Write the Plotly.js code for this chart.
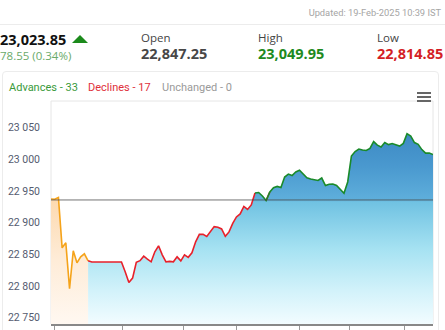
<!DOCTYPE html>
<html><head><meta charset="utf-8">
<script src="https://cdn.plot.ly/plotly-3.0.1.min.js"></script>
<style>
html,body{margin:0;padding:0;background:#fff;width:445px;height:330px;overflow:hidden;font-family:Roboto,sans-serif;}
.t{position:absolute;white-space:nowrap;}
#chart{position:absolute;left:0;top:0;width:445px;height:330px;}
.bar{position:absolute;left:417px;width:14px;height:2px;background:#666;}
</style></head><body>
<div style="position:absolute;left:0;top:24px;width:445px;height:1px;background:#ececec;"></div>
<div style="position:absolute;left:2px;top:71px;width:435px;height:280px;border:1px solid #ececec;border-radius:4px;"></div>
<div id="chart"></div>
<div id="hdr"></div>
<div class="bar" style="top:92px"></div><div class="bar" style="top:96px"></div><div class="bar" style="top:100px"></div>
<script>
// ---- data ----
const updatedText = "Updated: 19-Feb-2025 10:39 IST";
const lastPrice = "23,023.85";
const change = "78.55 (0.34%)";
const statLabels = ["Open", "High", "Low"];
const statValues = ["22,847.25", "23,049.95", "22,814.85"];
const breadthLabels = ["Advances - 33", "Declines - 17", "Unchanged - 0"];
const prevClose = 22945.30;
const preOpenEnd = 10; // last index of pre-open session
const values = [
 22946.9,22946.4,22949.2,22869.7,22877.6,22805.1,22865.0,22846.1,22855.5,22860.3,22849.2,
 22847.25,22847.25,22847.25,22847.25,22847.25,22847.25,22847.25,22847.25,22847.25,
 22831.9,22815.0,22822.0,22846.9,22849.5,22856.6,22852.0,22847.7,22863.4,22872.9,
 22858.7,22847.7,22848.4,22847.7,22855.5,22849.2,22858.7,22854.7,22861.8,22879.2,
 22891.0,22891.0,22887.8,22895.7,22903.2,22902.3,22899.6,22887.8,22894.9,22908.3,
 22918.5,22923.3,22935.1,22930.3,22937.4,22956.3,22957.1,22951.6,22944.5,22957.9,
 22964.5,22966.6,22965.0,22981.5,22986.2,22983.9,22989.4,22992.2,22986.2,22980.3,
 22978.4,22976.8,22976.0,22979.9,22968.1,22970.2,22970.5,22968.1,22961.1,22955.9,
 22973.7,23014.6,23021.7,23025.6,23024.1,23023.3,23026.7,23037.4,23031.9,23028.8,
 23035.9,23032.7,23034.3,23032.7,23030.4,23034.6,23049.95,23046.0,23035.9,23033.0,
 23024.8,23019.3,23019.3,23017.0
];
const tickIdx = [1, 19.4, 35.6, 49.9, 66.9, 80.6, 95.4];
const yTicks = [22750, 22800, 22850, 22900, 22950, 23000, 23050];

// ---- header ----
const hdr = document.getElementById('hdr');
function txt(s, left, cy, size, color, weight, family, right){
  const d = document.createElement('div');
  d.className = 't'; d.textContent = s;
  const lh = Math.round(size + 2);
  d.style.lineHeight = lh + 'px'; d.style.height = lh + 'px';
  d.style.top = (cy - lh / 2) + 'px';
  if (right !== undefined) d.style.right = right + 'px'; else d.style.left = left + 'px';
  d.style.fontSize = size + 'px'; d.style.color = color;
  d.style.fontWeight = weight; d.style.fontFamily = family;
  hdr.appendChild(d); return d;
}
const HF = "'Open Sans',sans-serif";
txt(updatedText, 0, 12, 9.3, '#a5a5a5', 400, 'Roboto', 4);
txt(lastPrice, 0, 39, 14.5, '#111', 700, HF);
const tri = document.createElement('div');
tri.style.cssText = 'position:absolute;left:72px;top:35px;width:0;height:0;border-left:8.5px solid transparent;border-right:8.5px solid transparent;border-bottom:8px solid #1b8a1b;';
hdr.appendChild(tri);
txt(change, 0, 56, 11.5, '#6aaa6a', 400, HF);
const statX = [141, 258, 377];
const statColors = ['#474747', '#1e8a1e', '#d41f26'];
statLabels.forEach((l, i) => {
  txt(l, statX[i], 38, 11.5, '#444', 400, HF);
  txt(statValues[i], statX[i], 53, 14.5, statColors[i], 700, HF);
});
const brX = [9, 88, 162];
const brC = ['#3a9a3a', '#e0303a', '#9a9a9a'];
breadthLabels.forEach((l, i) => txt(l, brX[i], 87, 11, brC[i], 400, 'Roboto'));

// ---- chart ----
const idx = values.map((v, i) => i);
const preX = idx.slice(0, preOpenEnd + 1), preY = values.slice(0, preOpenEnd + 1);
const mkX = idx.slice(preOpenEnd), mkY = values.slice(preOpenEnd);
const redY = mkY.map((v, j) => (v < prevClose || (j > 0 && mkY[j-1] < prevClose)) ? v : null);
const grnY = mkY.map((v, j) => (v >= prevClose || (j > 0 && mkY[j-1] >= prevClose)) ? v : null);
const yMin = 22749.5, yMax = 23101.5;

const traces = [
  {x: preX, y: preY, type: 'scatter', mode: 'lines', fill: 'tozeroy', line: {width: 0},
   fillgradient: {type: 'vertical', start: yMin, stop: 22950,
     colorscale: [[0, '#fff8f1'], [0.5, '#feecd8'], [1, '#fdd9ae']]}, hoverinfo: 'skip'},
  {x: mkX, y: mkY, type: 'scatter', mode: 'lines', fill: 'tozeroy', line: {width: 0},
   fillgradient: {type: 'vertical', start: yMin, stop: 23060,
     colorscale: [[0, '#f2fcff'], [0.17, '#d2f2fa'], [0.38, '#a6e2f2'], [0.62, '#70c2e2'],
                  [0.635, '#5eaedb'], [0.8, '#4a99cf'], [1, '#3a86c2']]}, hoverinfo: 'skip'},
  {x: preX, y: preY, type: 'scatter', mode: 'lines', line: {color: '#f5a31a', width: 1.6}},
  {x: mkX, y: redY, type: 'scatter', mode: 'lines', line: {color: '#e8202a', width: 1.6}, connectgaps: false},
  {x: mkX, y: grnY, type: 'scatter', mode: 'lines', line: {color: '#1a8a2a', width: 1.6}, connectgaps: false}
];
const layout = {
  width: 445, height: 330,
  margin: {l: 51, r: 12, t: 101, b: 6},
  paper_bgcolor: 'rgba(0,0,0,0)', plot_bgcolor: '#fff',
  showlegend: false, separators: '. ',
  font: {family: 'Roboto', size: 10.5, color: '#555b70'},
  xaxis: {range: [0, values.length - 1], showgrid: false, zeroline: false, showline: true,
          linecolor: '#888', linewidth: 1.5, ticks: 'outside', ticklen: 7, tickcolor: '#999', tickwidth: 1,
          tickmode: 'array', tickvals: tickIdx, showticklabels: false, fixedrange: true},
  yaxis: {range: [yMin, yMax], showgrid: false, zeroline: false, showline: false, ticks: '',
          tickmode: 'array', tickvals: yTicks, tickformat: ',d', ticklabelshift: -6, ticklabelstandoff: 10,
          fixedrange: true},
  shapes: [
    {type: 'rect', xref: 'paper', yref: 'paper', x0: 0, x1: 1, y0: 0, y1: 1, line: {color: '#e6e6e6', width: 1}, layer: 'below'},
    {type: 'line', xref: 'paper', x0: 0, x1: 1, yref: 'y', y0: prevClose, y1: prevClose, line: {color: 'rgba(70,70,70,0.75)', width: 1}, layer: 'above'}
  ]
};
Plotly.newPlot('chart', traces, layout, {displayModeBar: false, staticPlot: true});
</script>
</body></html>
